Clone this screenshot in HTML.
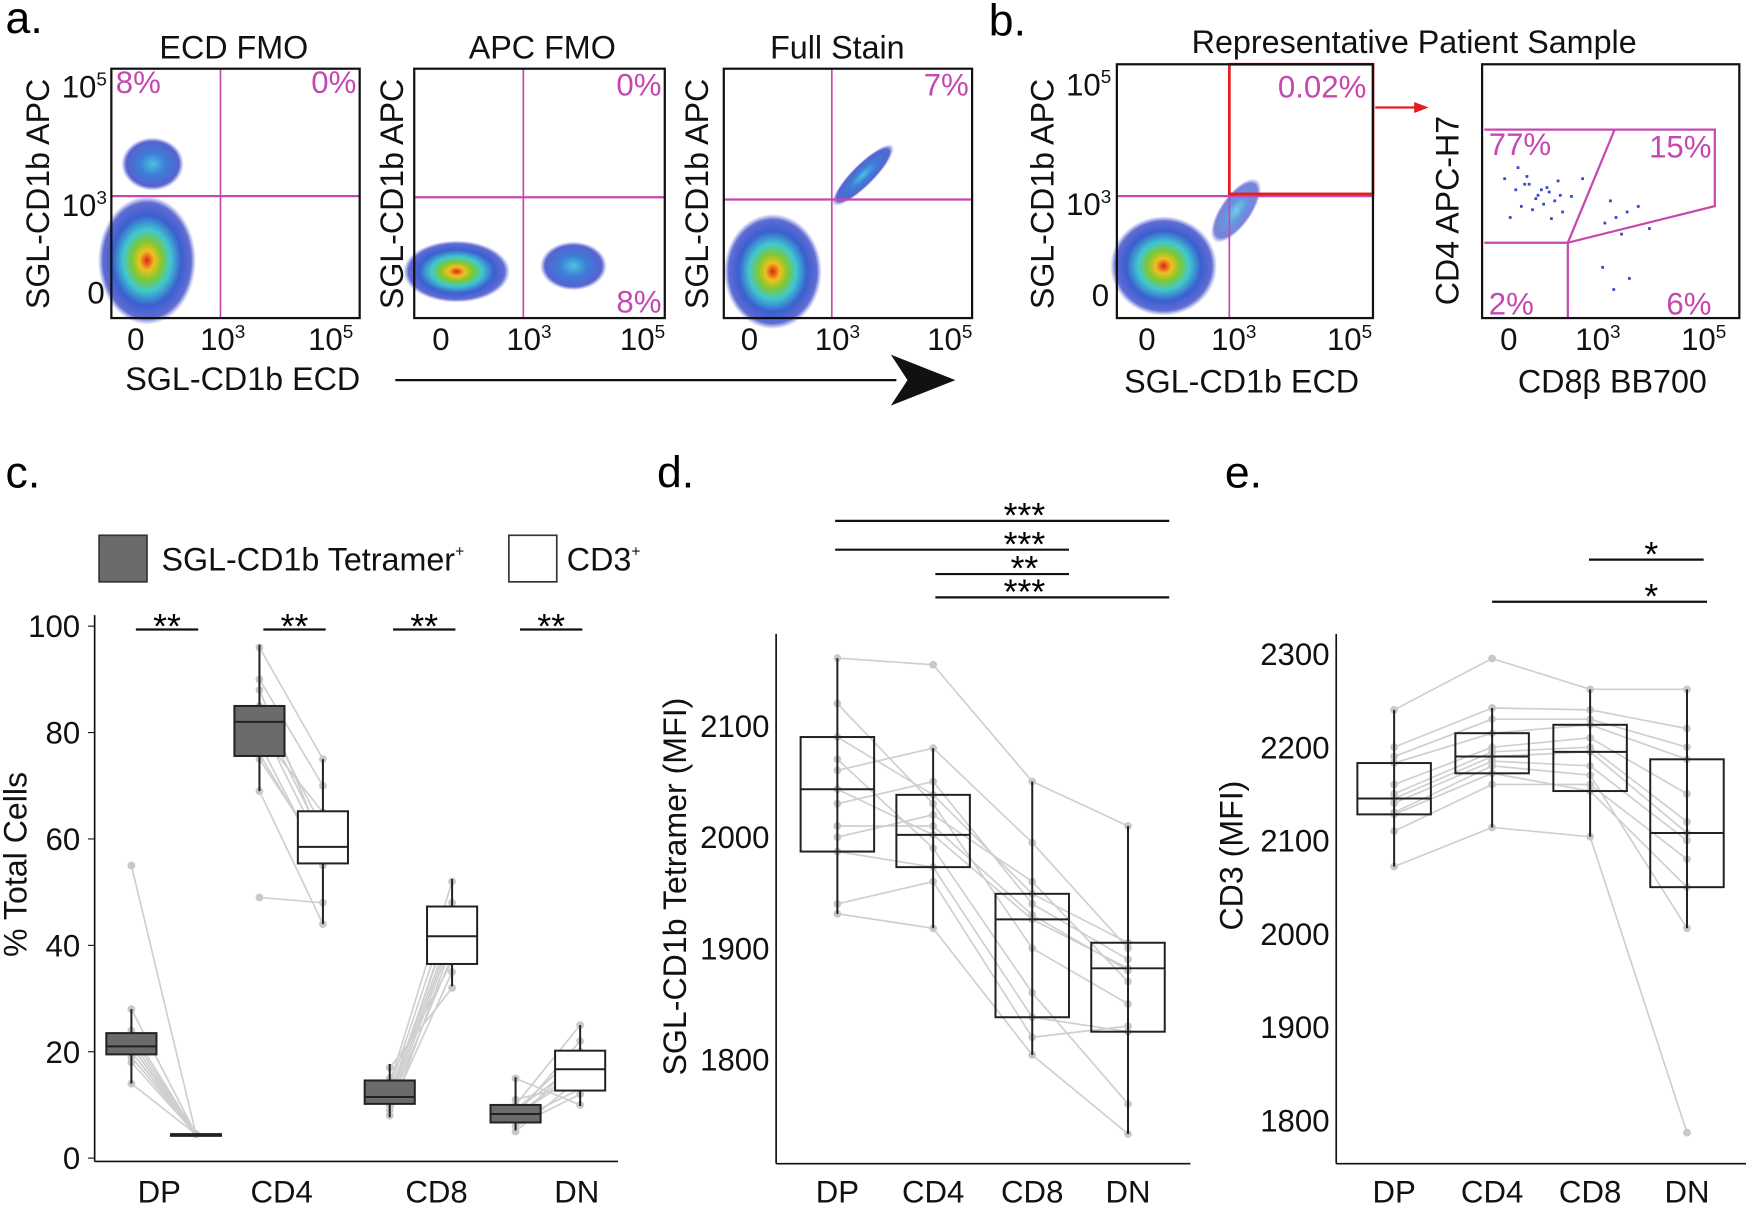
<!DOCTYPE html>
<html><head><meta charset="utf-8">
<style>
html,body{margin:0;padding:0;background:#fff;}
svg{display:block;font-family:"Liberation Sans",sans-serif;}
.t{font-size:29px;fill:#111;}
.tk{font-size:28px;fill:#111;}
.mg{fill:#c548b0;font-size:28px;}
</style></head>
<body>
<svg id="fig" width="1746" height="1208" viewBox="0 0 1568 1090" preserveAspectRatio="none" xmlns="http://www.w3.org/2000/svg">
<defs>
<radialGradient id="dens">
<stop offset="0" stop-color="#e0201a"/>
<stop offset="0.15" stop-color="#f0c020"/>
<stop offset="0.3" stop-color="#80c830"/>
<stop offset="0.48" stop-color="#40c8d0"/>
<stop offset="0.7" stop-color="#3a60d0"/>
<stop offset="0.9" stop-color="#3a48c8" stop-opacity="0.8"/>
<stop offset="1" stop-color="#5060d0" stop-opacity="0"/>
</radialGradient>
<radialGradient id="densb">
<stop offset="0" stop-color="#50c0e0"/>
<stop offset="0.4" stop-color="#3c80d8"/>
<stop offset="0.85" stop-color="#3a48c8" stop-opacity="0.85"/>
<stop offset="1" stop-color="#5060d0" stop-opacity="0"/>
</radialGradient>
</defs>

<text x="5" y="30" font-size="40">a.</text>
<text x="888" y="32" font-size="40">b.</text>
<text x="5" y="440" font-size="40">c.</text>
<text x="590" y="440" font-size="40">d.</text>
<text x="1100" y="440" font-size="40">e.</text>

<g>
<text class="t" x="210" y="53" text-anchor="middle">ECD FMO</text>
<ellipse cx="132" cy="235" rx="44" ry="58" fill="url(#dens)"/>
<ellipse cx="137" cy="148" rx="28" ry="24" fill="url(#densb)"/>
<line x1="198" y1="62" x2="198" y2="287" stroke="#c548b0" stroke-width="1.5"/>
<line x1="100" y1="177" x2="323" y2="177" stroke="#c548b0" stroke-width="2"/>
<rect x="100" y="62" width="223" height="225" fill="none" stroke="#111" stroke-width="2"/>
<text class="mg" x="104" y="84">8%</text>
<text class="mg" x="320" y="84" text-anchor="end">0%</text>
<text class="tk" x="96" y="88" text-anchor="end">10<tspan font-size="17" dy="-11">5</tspan></text>
<text class="tk" x="96" y="195" text-anchor="end">10<tspan font-size="17" dy="-11">3</tspan></text>
<text class="tk" x="94" y="274" text-anchor="end">0</text>
<text class="tk" x="122" y="316" text-anchor="middle">0</text>
<text class="tk" x="200" y="316" text-anchor="middle">10<tspan font-size="17" dy="-11">3</tspan></text>
<text class="tk" x="297" y="316" text-anchor="middle">10<tspan font-size="17" dy="-11">5</tspan></text>
<text class="t" transform="translate(44,175) rotate(-90)" text-anchor="middle">SGL-CD1b APC</text>
</g>
<g>
<text class="t" x="487" y="53" text-anchor="middle">APC FMO</text>
<ellipse cx="410" cy="245" rx="48" ry="28" fill="url(#dens)"/>
<ellipse cx="515" cy="240" rx="30" ry="22" fill="url(#densb)"/>
<line x1="470" y1="62" x2="470" y2="287" stroke="#c548b0" stroke-width="1.5"/>
<line x1="372" y1="178" x2="597" y2="178" stroke="#c548b0" stroke-width="2"/>
<rect x="372" y="62" width="225" height="225" fill="none" stroke="#111" stroke-width="2"/>
<text class="mg" x="594" y="86" text-anchor="end">0%</text>
<text class="mg" x="594" y="282" text-anchor="end">8%</text>
<text class="tk" x="396" y="316" text-anchor="middle">0</text>
<text class="tk" x="475" y="316" text-anchor="middle">10<tspan font-size="17" dy="-11">3</tspan></text>
<text class="tk" x="577" y="316" text-anchor="middle">10<tspan font-size="17" dy="-11">5</tspan></text>
<text class="t" transform="translate(362,175) rotate(-90)" text-anchor="middle">SGL-CD1b APC</text>
</g>
<g>
<text class="t" x="752" y="53" text-anchor="middle">Full Stain</text>
<ellipse cx="694" cy="245" rx="44" ry="52" fill="url(#dens)"/>
<ellipse cx="775" cy="158" rx="38" ry="10" transform="rotate(-45 775 158)" fill="url(#densb)"/>
<line x1="747" y1="62" x2="747" y2="287" stroke="#c548b0" stroke-width="1.5"/>
<line x1="650" y1="180" x2="873" y2="180" stroke="#c548b0" stroke-width="2"/>
<rect x="650" y="62" width="223" height="225" fill="none" stroke="#111" stroke-width="2"/>
<text class="mg" x="870" y="86" text-anchor="end">7%</text>
<text class="tk" x="673" y="316" text-anchor="middle">0</text>
<text class="tk" x="752" y="316" text-anchor="middle">10<tspan font-size="17" dy="-11">3</tspan></text>
<text class="tk" x="853" y="316" text-anchor="middle">10<tspan font-size="17" dy="-11">5</tspan></text>
<text class="t" transform="translate(636,175) rotate(-90)" text-anchor="middle">SGL-CD1b APC</text>
</g>
<text class="t" x="218" y="352" text-anchor="middle" font-size="30">SGL-CD1b ECD</text>
<line x1="355" y1="343" x2="805" y2="343" stroke="#111" stroke-width="2"/>
<polygon points="800,320 858,343 800,366 815,343" fill="#111"/>

<g>
<text class="t" x="1270" y="48" text-anchor="middle">Representative Patient Sample</text>
<ellipse cx="1045" cy="240" rx="48" ry="45" fill="url(#dens)"/>
<ellipse cx="1110" cy="190" rx="34" ry="14" transform="rotate(-55 1110 190)" fill="url(#densb)" opacity="0.8"/>
<line x1="1104" y1="58" x2="1104" y2="287" stroke="#c548b0" stroke-width="1.5"/>
<line x1="1003" y1="177" x2="1233" y2="177" stroke="#c548b0" stroke-width="2"/>
<rect x="1104" y="58" width="129" height="117" fill="none" stroke="#e02020" stroke-width="2.5"/>
<rect x="1003" y="58" width="230" height="229" fill="none" stroke="#111" stroke-width="2"/>
<text class="mg" x="1227" y="88" text-anchor="end">0.02%</text>
<text class="tk" x="998" y="86" text-anchor="end">10<tspan font-size="17" dy="-11">5</tspan></text>
<text class="tk" x="998" y="194" text-anchor="end">10<tspan font-size="17" dy="-11">3</tspan></text>
<text class="tk" x="996" y="276" text-anchor="end">0</text>
<text class="tk" x="1030" y="316" text-anchor="middle">0</text>
<text class="tk" x="1108" y="316" text-anchor="middle">10<tspan font-size="17" dy="-11">3</tspan></text>
<text class="tk" x="1212" y="316" text-anchor="middle">10<tspan font-size="17" dy="-11">5</tspan></text>
<text class="t" x="1115" y="354" text-anchor="middle" font-size="30">SGL-CD1b ECD</text>
<text class="t" transform="translate(946,175) rotate(-90)" text-anchor="middle">SGL-CD1b APC</text>
</g>
<line x1="1235" y1="97" x2="1272" y2="97" stroke="#e02020" stroke-width="2"/>
<polygon points="1270,92 1283,97 1270,102" fill="#e02020"/>
<g>
<g fill="#3a48c8" id="dots"></g>
<polyline points="1333,117 1450,117 1408,219 1333,219" fill="none" stroke="#c548b0" stroke-width="2"/>
<polyline points="1450,117 1540,117 1540,186 1408,219 1408,287" fill="none" stroke="#c548b0" stroke-width="2"/>
<rect x="1331" y="58" width="231" height="229" fill="none" stroke="#111" stroke-width="2"/>
<text class="mg" x="1337" y="140">77%</text>
<text class="mg" x="1537" y="142" text-anchor="end">15%</text>
<text class="mg" x="1337" y="284">2%</text>
<text class="mg" x="1537" y="284" text-anchor="end">6%</text>
<text class="tk" x="1355" y="316" text-anchor="middle">0</text>
<text class="tk" x="1435" y="316" text-anchor="middle">10<tspan font-size="17" dy="-11">3</tspan></text>
<text class="tk" x="1530" y="316" text-anchor="middle">10<tspan font-size="17" dy="-11">5</tspan></text>
<text class="t" x="1448" y="354" text-anchor="middle" font-size="30">CD8β BB700</text>
<text class="t" transform="translate(1310,190) rotate(-90)" text-anchor="middle">CD4 APC-H7</text>
</g>

<g>
<rect x="89" y="483" width="43" height="42" fill="#6b6b6b" stroke="#333" stroke-width="1.5"/>
<text class="t" x="145" y="515" font-size="30">SGL-CD1b Tetramer<tspan font-size="14" dy="-13">+</tspan></text>
<rect x="457" y="483" width="43" height="42" fill="#fff" stroke="#333" stroke-width="1.5"/>
<text class="t" x="509" y="515" font-size="30">CD3<tspan font-size="14" dy="-13">+</tspan></text>
</g>
<g id="charts"></g>
</svg>
<script>
const dotsX=[1350,1360,1372,1380,1388,1395,1365,1378,1390,1402,1355,1370,1385,1398,1410,1362,1375,1392,1440,1450,1460,1470,1455,1445,1480,1420,1438,1462,1448,1400,1368,1383];
const dotsY=[160,170,165,175,168,180,185,178,172,190,195,158,183,162,176,150,188,196,200,195,190,185,210,180,205,160,240,250,260,175,165,170];
const dg=document.getElementById('dots');
for(let i=0;i<dotsX.length;i++){const r=document.createElementNS('http://www.w3.org/2000/svg','rect');r.setAttribute('x',dotsX[i]);r.setAttribute('y',dotsY[i]);r.setAttribute('width',2.5);r.setAttribute('height',2.5);


dg.appendChild(r);}

const cCats=['DP','CD4','CD8','DN'];
const cTicks=[0,20,40,60,80,100];
const cTetBox=[[14,19.5,21,23.5,28],[69,75.6,82,85,96.5],[7.7,10.2,11.5,14.6,17.7],[5.2,6.7,8.3,10,15.2]];
const cCd3Box=[[4.5,4.5,4.5,4.5,4.5],[44,55.4,58.5,65.2,75],[32.3,36.5,41.7,47.3,52.5],[9.8,12.7,16.7,20.2,25]];
const cTetPts=[[21,20,22,23,19,24,28,14,55,21,20,18],[82,85,96,78,75,69,90,84,49,80,88,76],[11,12,14,10,9,17,13,8,12,11,15,10],[8,9,10,7,6,15,8,5,9,7,11,8]];
const cCd3Pts=[[4.5,4.5,4.5,4.5,4.5,4.5,4.5,4.5,4.5,4.5,4.5,4.5],[58,62,75,55,57,44,70,60,48,65,59,56],[42,45,52,38,35,32,48,40,43,46,37,41],[17,20,25,13,12,10,22,15,18,19,14,16]];
const dCats=['DP','CD4','CD8','DN'];
const dTicks=[1800,1900,2000,2100];
const dBox=[[1931,1987,2043,2090,2161],[1918,1973,2002,2038,2080],[1804,1838,1926,1949,2050],[1733,1825,1882,1905,2010]];
const dPts=[[2161,2090,2043,2060,1987,1931,2120,2010,2070,2030,1940,2000],[2155,2038,2002,2080,1973,1918,2030,2010,1990,2050,1960,2020],[2050,1949,1926,1995,1838,1804,1900,1930,1860,1940,1820,1960],[2010,1905,1882,1900,1825,1733,1850,1880,1760,1890,1830,1870]];
const eCats=['DP','CD4','CD8','DN'];
const eTicks=[1800,1900,2000,2100,2200,2300];
const eBox=[[2072,2128,2145,2183,2240],[2114,2172,2190,2215,2242],[2104,2153,2195,2224,2262],[2006,2050,2108,2187,2262]];
const ePts=[[2240,2183,2145,2200,2128,2072,2160,2140,2130,2190,2110,2150],[2295,2215,2190,2242,2172,2114,2200,2185,2180,2230,2160,2195],[2262,2224,2195,2240,2153,2104,2210,2180,2170,2230,2160,2200],[2262,2187,2108,2220,2050,1787,2150,2100,2006,2200,2080,2120]];

const NS='http://www.w3.org/2000/svg';
const root=document.getElementById('charts');
function mk(tag,attrs,parent){const e=document.createElementNS(NS,tag);for(const k in attrs)e.setAttribute(k,attrs[k]);(parent||root).appendChild(e);return e;}
function lin(d0,d1,r0,r1){return v=>r0+(v-d0)*(r1-r0)/(d1-d0);}

function drawBox(g,x,w,st,y,fill,name){
  const wl=mk('line',{x1:x,x2:x,y1:y(st[0]),y2:y(st[4]),stroke:'#222','stroke-width':1.8},g);
  
  
  const r=mk('rect',{x:x-w/2,y:y(st[3]),width:w,height:Math.max(1.5,y(st[1])-y(st[3])),fill:fill,stroke:'#222','stroke-width':1.8},g);
  
  
  const m=mk('line',{x1:x-w/2,x2:x+w/2,y1:y(st[2]),y2:y(st[2]),stroke:'#222','stroke-width':1.8},g);
  
  
}
function pt(g,x,y,name){const c=mk('circle',{cx:x,cy:y,r:3.5,fill:'#c8c8c8'},g);
  
  }
function pline(g,x1,y1,x2,y2){const l=mk('line',{x1,y1,x2,y2,stroke:'#cfcfcf','stroke-width':1.5},g);
  
  }

(function(){
  const g=mk('g',{});
  
  
  const y=lin(0,100,1045,565);
  const cx=[143,253,392,518];
  const tetX=[118,233,350,463];const cd3X=[176,290,406,521];
  mk('line',{x1:85,y1:555,x2:85,y2:1048,stroke:'#111','stroke-width':1.5},g);
  mk('line',{x1:85,y1:1048,x2:555,y2:1048,stroke:'#111','stroke-width':1.5},g);
  cTicks.forEach(t=>{const tx=mk('text',{x:72,y:y(t)+10,'text-anchor':'end',class:'tk'},g);tx.textContent=t;
    
    
    mk('line',{x1:79,x2:85,y1:y(t),y2:y(t),stroke:'#111'},g);});
  cCats.forEach((c,i)=>{const tx=mk('text',{x:cx[i],y:1085,'text-anchor':'middle',class:'tk','font-size':30},g);tx.textContent=c;
    
    });
  const yt=mk('text',{transform:'translate(24,780) rotate(-90)','text-anchor':'middle',class:'t','font-size':32},g);yt.textContent='% Total Cells';
  
  
  cCats.forEach((c,i)=>{
    const x1=tetX[i],x2=cd3X[i];
    for(let k=0;k<cTetPts[i].length;k++){pline(g,x1,y(cTetPts[i][k]),x2,y(cCd3Pts[i][k]));}
    for(let k=0;k<cTetPts[i].length;k++){pt(g,x1,y(cTetPts[i][k]),'tet-point');pt(g,x2,y(cCd3Pts[i][k]),'cd3-point');}
    drawBox(g,x1,45,cTetBox[i],y,'#6b6b6b','tet-'+c);
    drawBox(g,x2,45,cCd3Box[i],y,'#fff','cd3-'+c);
    const sx=(x1+x2)/2+3;
    mk('line',{x1:sx-28,x2:sx+28,y1:568,y2:568,stroke:'#111','stroke-width':2},g);
    const s=mk('text',{x:sx,y:576,'text-anchor':'middle','font-size':32},g);s.textContent='**';
    
    
  });
})();

function panel(opts){
  const g=mk('g',{});
  
  
  const y=lin(opts.d0,opts.d1,opts.r0,opts.r1);
  mk('line',{x1:opts.ax,y1:572,x2:opts.ax,y2:1050,stroke:'#111','stroke-width':1.5},g);
  mk('line',{x1:opts.ax,y1:1050,x2:opts.ax+372,y2:1050,stroke:'#111','stroke-width':1.5},g);
  opts.ticks.forEach(t=>{const tx=mk('text',{x:opts.ax-6,y:y(t)+10,'text-anchor':'end',class:'tk'},g);tx.textContent=t;
    
    });
  opts.cats.forEach((c,i)=>{const tx=mk('text',{x:opts.cx[i],y:1085,'text-anchor':'middle',class:'tk','font-size':30},g);tx.textContent=c;
    
    });
  const yt=mk('text',{transform:`translate(${opts.tx},${opts.ty}) rotate(-90)`,'text-anchor':'middle',class:'t','font-size':31},g);yt.textContent=opts.title;
  
  
  const n=opts.pts[0].length;
  for(let k=0;k<n;k++)for(let i=0;i<3;i++)pline(g,opts.cx[i],y(opts.pts[i][k]),opts.cx[i+1],y(opts.pts[i+1][k]));
  for(let i=0;i<4;i++)for(let k=0;k<n;k++)pt(g,opts.cx[i],y(opts.pts[i][k]),'subject-point');
  opts.box.forEach((b,i)=>drawBox(g,opts.cx[i],66,b,y,'none',opts.cats[i]));
  opts.sig.forEach(s=>{mk('line',{x1:s[0],x2:s[1],y1:s[2],y2:s[2],stroke:'#111','stroke-width':2},g);
    const t=mk('text',{x:s[3],y:s[2]+6,'text-anchor':'middle','font-size':32},g);t.textContent=s[4];
    
    });
}
panel({name:'panel-d-chart',cats:dCats,ticks:dTicks,box:dBox,pts:dPts,d0:1800,d1:2100,r0:956,r1:655,ax:697,cx:[752,838,927,1013],
  title:'SGL-CD1b Tetramer (MFI)',tx:616,ty:800,
  sig:[[750,1050,470,920,'***'],[750,960,496,920,'***'],[840,960,518,920,'**'],[840,1050,539,920,'***']]});
panel({name:'panel-e-chart',cats:eCats,ticks:eTicks,box:eBox,pts:ePts,d0:1800,d1:2300,r0:1011,r1:590,ax:1200,cx:[1252,1340,1428,1515],
  title:'CD3 (MFI)',tx:1116,ty:772,
  sig:[[1427,1530,505,1483,'*'],[1340,1533,543,1483,'*']]});
</script>
</body></html>
